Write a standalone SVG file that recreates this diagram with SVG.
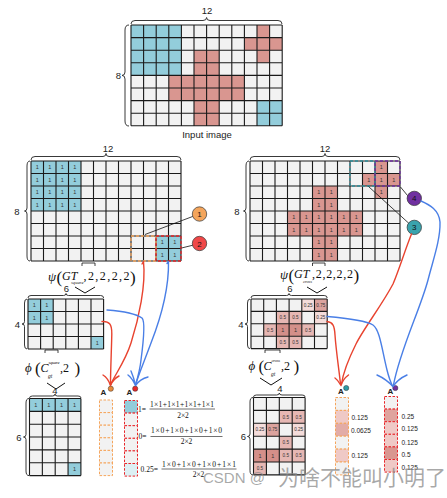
<svg xmlns="http://www.w3.org/2000/svg" width="447" height="498" viewBox="0 0 447 498">
<style>
.bg{fill:#ffffff}
.cell{fill:#f2f2f2}
.gl{fill:none;stroke:#1a1a1a;stroke-width:1.1}
.b{fill:#93cddb}
.r{fill:#d99690}
.v1{fill:#d48f89}
.v75{fill:#dca39e}
.v5{fill:#e6b7b3}
.v25{fill:#f4dcda}
.v125{fill:#efc9c6}
.t{font-family:"Liberation Sans",Arial,sans-serif;font-size:5.5px;fill:#333;text-anchor:middle}
.d{font-family:"Liberation Sans",Arial,sans-serif;font-size:4.6px;fill:#333;text-anchor:middle}
.lbl{font-family:"Liberation Sans",Arial,sans-serif;font-size:9.5px;fill:#222;text-anchor:middle}
.br{fill:none;stroke:#222;stroke-width:0.9}
.m{font-family:"Liberation Serif","Times New Roman",serif;fill:#111}
.eq{font-family:"Liberation Serif","Times New Roman",serif;font-size:7.5px;fill:#111}
.fl{stroke:#111;stroke-width:0.6}
.red{fill:none;stroke:#e8432f;stroke-width:1.4;stroke-linecap:round;stroke-linejoin:round}
.blue{fill:none;stroke:#4a7fe6;stroke-width:1.4;stroke-linecap:round;stroke-linejoin:round}
.thin{fill:none;stroke:#111;stroke-width:0.8}
.chev{fill:none;stroke:#111;stroke-width:1}
.oc{fill:#f2f2f2;stroke:#f5a55c;stroke-width:1;stroke-dasharray:2.5 1.5}
.rc{fill:#f2f2f2;stroke:#e8262a;stroke-width:1;stroke-dasharray:2.5 1.5}
.val{font-family:"Liberation Sans",Arial,sans-serif;font-size:6.5px;fill:#222}
.A{font-family:"Liberation Sans",Arial,sans-serif;font-size:8px;font-weight:bold;fill:#222}
.ct{font-family:"Liberation Sans",Arial,sans-serif;font-size:8px;fill:#111;text-anchor:middle}
</style>
<rect class="bg" x="0" y="0" width="447" height="498"/>

<!-- Input image -->
<g id="input-image">
  <rect class="cell" x="131" y="25" width="151.2" height="100.8"/>
  <rect class="b" x="131" y="25" width="50.4" height="50.4"/>
  <rect class="b" x="257" y="100.6" width="25.2" height="25.2"/>
  <rect class="r" x="257" y="25" width="12.6" height="12.6"/>
  <rect class="r" x="244.4" y="37.6" width="37.8" height="12.6"/>
  <rect class="r" x="257" y="50.2" width="12.6" height="12.6"/>
  <rect class="r" x="194" y="50.2" width="25.2" height="25.2"/>
  <rect class="r" x="168.8" y="75.4" width="75.6" height="25.2"/>
  <rect class="r" x="194" y="100.6" width="25.2" height="25.2"/>
  <path class="gl" d="M131,25V125.8M143.6,25V125.8M156.2,25V125.8M168.8,25V125.8M181.4,25V125.8M194,25V125.8M206.6,25V125.8M219.2,25V125.8M231.8,25V125.8M244.4,25V125.8M257,25V125.8M269.6,25V125.8M282.2,25V125.8M131,25H282.2M131,37.6H282.2M131,50.2H282.2M131,62.8H282.2M131,75.4H282.2M131,88H282.2M131,100.6H282.2M131,113.2H282.2M131,125.8H282.2"/>
  <path class="br" d="M131,24 Q131,20.5 135,20.5 L203,20.5 Q206.6,20.5 206.6,17.5 Q206.6,20.5 210,20.5 L278,20.5 Q282,20.5 282,24"/>
  <path class="br" d="M129,25 Q125,25 125,30 L125,72 Q125,75.4 122,75.4 Q125,75.4 125,79 L125,121 Q125,126 129,126"/>
  <text class="lbl" x="207" y="14">12</text>
  <text class="lbl" x="118.5" y="79">8</text>
  <text class="lbl" x="207" y="138" font-size="8.5">Input image</text>
</g>

<!-- Middle left: GT square -->
<g id="gt-square">
  <rect class="cell" x="31" y="161" width="150" height="100"/>
  <rect class="b" x="31" y="161" width="50" height="50"/>
  <rect class="b" x="156" y="236" width="25" height="25"/>
  <path class="gl" d="M31,161V261M43.5,161V261M56,161V261M68.5,161V261M81,161V261M93.5,161V261M106,161V261M118.5,161V261M131,161V261M143.5,161V261M156,161V261M168.5,161V261M181,161V261M31,161H181M31,173.5H181M31,186H181M31,198.5H181M31,211H181M31,223.5H181M31,236H181M31,248.5H181M31,261H181"/>
  <text class="t" x="37.25 49.75 62.25 74.75" y="169.25">1111</text>
  <text class="t" x="37.25 49.75 62.25 74.75" y="181.75">1111</text>
  <text class="t" x="37.25 49.75 62.25 74.75" y="194.25">1111</text>
  <text class="t" x="37.25 49.75 62.25 74.75" y="206.75">1111</text>
  <text class="t" x="162.25 174.75" y="244.25">11</text>
  <text class="t" x="162.25 174.75" y="256.75">11</text>
  <rect x="131" y="236" width="25" height="25" fill="none" stroke="#f5a55c" stroke-width="1.3" stroke-dasharray="3 2"/>
  <rect x="156" y="236" width="25" height="25" fill="none" stroke="#e8262a" stroke-width="1.3" stroke-dasharray="3 2"/>
  <path class="br" d="M31,160 Q31,156.5 35,156.5 L103,156.5 Q106,156.5 106,153.5 Q106,156.5 109,156.5 L177,156.5 Q181,156.5 181,160"/>
  <path class="br" d="M30,161 Q27,161 27,166 L27,208 Q27,211 24.5,211 Q27,211 27,214 L27,256 Q27,261 30,261"/>
  <text class="lbl" x="108" y="151.5">12</text>
  <text class="lbl" x="17" y="214.5">8</text>
  <path class="thin" d="M82,266V263H95V266"/>
</g>

<!-- Middle right: GT cross -->
<g id="gt-cross">
  <rect class="cell" x="250" y="161" width="150" height="100"/>
  <rect class="r" x="375" y="161" width="12.5" height="12.5"/>
  <rect class="r" x="362.5" y="173.5" width="37.5" height="12.5"/>
  <rect class="r" x="375" y="186" width="12.5" height="12.5"/>
  <rect class="r" x="312.5" y="186" width="25" height="25"/>
  <rect class="r" x="287.5" y="211" width="75" height="25"/>
  <rect class="r" x="312.5" y="236" width="25" height="25"/>
  <path class="gl" d="M250,161V261M262.5,161V261M275,161V261M287.5,161V261M300,161V261M312.5,161V261M325,161V261M337.5,161V261M350,161V261M362.5,161V261M375,161V261M387.5,161V261M400,161V261M250,161H400M250,173.5H400M250,186H400M250,198.5H400M250,211H400M250,223.5H400M250,236H400M250,248.5H400M250,261H400"/>
  <text class="t" x="381.25" y="169.25">1</text>
  <text class="t" x="368.75 381.25 393.75" y="181.75">111</text>
  <text class="t" x="318.75 331.25 381.25" y="194.25">111</text>
  <text class="t" x="318.75 331.25" y="206.75">11</text>
  <text class="t" x="293.75 306.25 318.75 331.25 343.75 356.25" y="219.25">111111</text>
  <text class="t" x="293.75 306.25 318.75 331.25 343.75 356.25" y="231.75">111111</text>
  <text class="t" x="318.75 331.25" y="244.25">11</text>
  <text class="t" x="318.75 331.25" y="256.75">11</text>
  <rect x="350" y="161" width="25" height="25" fill="none" stroke="#2e8f9a" stroke-width="1.3" stroke-dasharray="3 2"/>
  <rect x="375" y="161" width="25" height="25" fill="none" stroke="#7030a0" stroke-width="1.3" stroke-dasharray="3 2"/>
  <path class="br" d="M250,160 Q250,156.5 254,156.5 L322,156.5 Q325,156.5 325,153.5 Q325,156.5 328,156.5 L396,156.5 Q400,156.5 400,160"/>
  <path class="br" d="M249,161 Q246,161 246,166 L246,208 Q246,211 243.5,211 Q246,211 246,214 L246,256 Q246,261 249,261"/>
  <text class="lbl" x="325" y="151.5">12</text>
  <text class="lbl" x="237" y="214.5">8</text>
  <path class="thin" d="M312.5,266V263H325V266"/>
</g>

<!-- psi formulas -->
<g id="psi-square">
  <text class="m" x="48" y="281" font-size="13" font-style="italic">ψ</text>
  <text class="m" x="56.5" y="283" font-size="17">(</text>
  <text class="m" x="62" y="280" font-size="12" font-style="italic">GT</text>
  <text class="m" x="71" y="283.5" font-size="4.6" font-style="italic" textLength="12.5">square</text>
  <text class="m" x="83.5" y="280" font-size="12" textLength="46">,2,2,2,2</text>
  <text class="m" x="130" y="283" font-size="17">)</text>
  <path class="chev" d="M75,287 L85,293 L95,287"/>
</g>
<g id="psi-cross">
  <text class="m" x="280" y="279" font-size="13" font-style="italic">ψ</text>
  <text class="m" x="288.5" y="281" font-size="17">(</text>
  <text class="m" x="294" y="278" font-size="12" font-style="italic">GT</text>
  <text class="m" x="303" y="282.5" font-size="4.6" font-style="italic" textLength="9">cross</text>
  <text class="m" x="312" y="278" font-size="12" textLength="41">,2,2,2,2</text>
  <text class="m" x="353.5" y="281" font-size="17">)</text>
  <path class="chev" d="M307,287 L317,293 L327,287"/>
</g>

<!-- Lower left 6x4 -->
<g id="c-square">
  <rect class="cell" x="28" y="299" width="75.6" height="50"/>
  <rect class="b" x="28" y="299" width="25.2" height="25"/>
  <rect class="b" x="91" y="336.5" width="12.6" height="12.5"/>
  <path class="gl" d="M28,299V349M40.6,299V349M53.2,299V349M65.8,299V349M78.4,299V349M91,299V349M103.6,299V349M28,299H103.6M28,311.5H103.6M28,324H103.6M28,336.5H103.6M28,349H103.6"/>
  <text class="t" x="34.3 46.9" y="307.25">11</text>
  <text class="t" x="34.3 46.9" y="319.75">11</text>
  <text class="t" x="97.3" y="344.75">1</text>
  <path class="br" d="M28,298 Q28,295.5 31,295.5 L63.5,295.5 Q66,295.5 66,293.5 Q66,295.5 68.5,295.5 L100.6,295.5 Q103.6,295.5 103.6,298"/>
  <path class="br" d="M27,299 Q24.5,299 24.5,303 L24.5,321.5 Q24.5,324 22,324 Q24.5,324 24.5,326.5 L24.5,345 Q24.5,349 27,349"/>
  <text class="lbl" x="66.5" y="292">6</text>
  <text class="lbl" x="17.5" y="327.5">4</text>
  <path class="thin" d="M45,353V350H58V353"/>
</g>

<!-- Lower right 6x4 -->
<g id="c-cross">
  <rect class="cell" x="251" y="299" width="76.2" height="49.6"/>
  <rect class="v25" x="301.8" y="299" width="12.7" height="12.4"/>
  <rect class="v75" x="314.5" y="299" width="12.7" height="12.4"/>
  <rect class="v5" x="276.4" y="311.4" width="25.4" height="12.4"/>
  <rect class="v25" x="314.5" y="311.4" width="12.7" height="12.4"/>
  <rect class="v5" x="263.7" y="323.8" width="12.7" height="12.4"/>
  <rect class="v1" x="276.4" y="323.8" width="25.4" height="12.4"/>
  <rect class="v5" x="301.8" y="323.8" width="12.7" height="12.4"/>
  <rect class="v5" x="276.4" y="336.2" width="25.4" height="12.4"/>
  <path class="gl" d="M251,299V348.6M263.7,299V348.6M276.4,299V348.6M289.1,299V348.6M301.8,299V348.6M314.5,299V348.6M327.2,299V348.6M251,299H327.2M251,311.4H327.2M251,323.8H327.2M251,336.2H327.2M251,348.6H327.2"/>
  <text class="d" x="308.15" y="306.8">0.25</text>
  <text class="d" x="320.85" y="306.8">0.75</text>
  <text class="d" x="282.75" y="319.2">0.5</text>
  <text class="d" x="295.45" y="319.2">0.5</text>
  <text class="d" x="320.85" y="319.2">0.25</text>
  <text class="d" x="270.05" y="331.6">0.5</text>
  <text class="t" x="282.75 295.45" y="332">11</text>
  <text class="d" x="308.15" y="331.6">0.5</text>
  <text class="d" x="282.75" y="344">0.5</text>
  <text class="d" x="295.45" y="344">0.5</text>
  <path class="br" d="M251,298 Q251,295.5 254,295.5 L286.5,295.5 Q289,295.5 289,293.5 Q289,295.5 291.5,295.5 L324.2,295.5 Q327.2,295.5 327.2,298"/>
  <path class="br" d="M250,299 Q247.5,299 247.5,303 L247.5,321.5 Q247.5,324 245,324 Q247.5,324 247.5,326.5 L247.5,345 Q247.5,348.6 250,348.6"/>
  <text class="lbl" x="290" y="292">6</text>
  <text class="lbl" x="241" y="327.5">4</text>
  <path class="thin" d="M265,353V350H280V353"/>
</g>

<!-- phi formulas -->
<g id="phi-square">
  <text class="m" x="25" y="372" font-size="13" font-style="italic">ϕ</text>
  <text class="m" x="35" y="374" font-size="17">(</text>
  <text class="m" x="40.5" y="372" font-size="12" font-style="italic">C</text>
  <text class="m" x="48.5" y="363.5" font-size="4.6" font-style="italic" textLength="11">square</text>
  <text class="m" x="48" y="378" font-size="5.5" font-style="italic">gt</text>
  <text class="m" x="60" y="372" font-size="12">,2</text>
  <text class="m" x="74.5" y="374" font-size="17">)</text>
  <path class="chev" d="M47,383 L56,389 L65,383"/>
</g>
<g id="phi-cross">
  <text class="m" x="248.5" y="370" font-size="13" font-style="italic">ϕ</text>
  <text class="m" x="258.5" y="372" font-size="17">(</text>
  <text class="m" x="263.5" y="370" font-size="12" font-style="italic">C</text>
  <text class="m" x="271.5" y="361.5" font-size="4.6" font-style="italic" textLength="8.5">cross</text>
  <text class="m" x="271" y="376" font-size="5.5" font-style="italic">gt</text>
  <text class="m" x="281" y="370" font-size="12">,2</text>
  <text class="m" x="293.5" y="372" font-size="17">)</text>
  <path class="chev" d="M260,378 L271,385 L282,378"/>
</g>

<!-- Bottom left 4x6 -->
<g id="pool-square">
  <rect class="cell" x="29.5" y="398.5" width="51.4" height="77.1"/>
  <rect class="b" x="29.5" y="398.5" width="51.4" height="12.85"/>
  <rect class="b" x="68.05" y="462.75" width="12.85" height="12.85"/>
  <path class="gl" d="M29.5,398.5V475.6M42.35,398.5V475.6M55.2,398.5V475.6M68.05,398.5V475.6M80.9,398.5V475.6M29.5,398.5H80.9M29.5,411.35H80.9M29.5,424.2H80.9M29.5,437.05H80.9M29.5,449.9H80.9M29.5,462.75H80.9M29.5,475.6H80.9"/>
  <text class="t" x="35.9 48.8 61.6 74.5" y="406.9">1111</text>
  <text class="t" x="74.5" y="471.2">1</text>
  <path class="br" d="M29.5,398 Q29.5,396 32.5,396 L52.5,396 Q55,396 55,394 Q55,396 57.5,396 L78,396 Q81,396 81,398"/>
  <path class="br" d="M29,398.5 Q26,398.5 26,403 L26,434.5 Q26,437 23.5,437 Q26,437 26,439.5 L26,471 Q26,475.6 29,475.6"/>
  <text class="lbl" x="55" y="393.5">4</text>
  <text class="lbl" x="19" y="440.5">6</text>
</g>

<!-- Bottom right 4x6 -->
<g id="pool-cross">
  <rect class="cell" x="253.5" y="397.5" width="51.6" height="77.4"/>
  <rect class="v5" x="279.3" y="410.4" width="25.8" height="12.9"/>
  <rect class="v25" x="253.5" y="423.3" width="12.9" height="12.9"/>
  <rect class="v75" x="266.4" y="423.3" width="12.9" height="12.9"/>
  <rect class="v25" x="292.2" y="423.3" width="12.9" height="12.9"/>
  <rect class="v5" x="279.3" y="436.2" width="12.9" height="12.9"/>
  <rect class="v1" x="253.5" y="449.1" width="25.8" height="12.9"/>
  <rect class="v5" x="279.3" y="449.1" width="25.8" height="12.9"/>
  <rect class="v5" x="253.5" y="462" width="12.9" height="12.9"/>
  <path class="gl" d="M253.5,397.5V474.9M266.4,397.5V474.9M279.3,397.5V474.9M292.2,397.5V474.9M305.1,397.5V474.9M253.5,397.5H305.1M253.5,410.4H305.1M253.5,423.3H305.1M253.5,436.2H305.1M253.5,449.1H305.1M253.5,462H305.1M253.5,474.9H305.1"/>
  <text class="d" x="285.75" y="418.5">0.5</text>
  <text class="d" x="298.65" y="418.5">0.5</text>
  <text class="d" x="259.95" y="431.4">0.25</text>
  <text class="d" x="272.85" y="431.4">0.75</text>
  <text class="d" x="298.65" y="431.4">0.25</text>
  <text class="d" x="285.75" y="444.3">0.5</text>
  <text class="t" x="259.95 272.85" y="457.6">11</text>
  <text class="d" x="285.75" y="457.2">0.5</text>
  <text class="d" x="298.65" y="457.2">0.5</text>
  <text class="d" x="259.95" y="470.1">0.5</text>
  <path class="br" d="M253.5,397 Q253.5,395 256.5,395 L276.5,395 Q279.3,395 279.3,393 Q279.3,395 282,395 L302.1,395 Q305.1,395 305.1,397"/>
  <path class="br" d="M253,397.5 Q250,397.5 250,402 L250,434 Q250,436.5 247.5,436.5 Q250,436.5 250,439 L250,470.5 Q250,474.9 253,474.9"/>
  <text class="lbl" x="280" y="392">4</text>
  <text class="lbl" x="243.5" y="440">6</text>
</g>

<!-- Vector columns -->
<g id="vec-orange-left">
  <rect class="oc" x="99.5" y="400" width="13" height="12.6"/>
  <rect class="oc" x="99.5" y="412.6" width="13" height="12.6"/>
  <rect class="oc" x="99.5" y="425.2" width="13" height="12.6"/>
  <rect class="oc" x="99.5" y="437.8" width="13" height="12.6"/>
  <rect class="oc" x="99.5" y="450.4" width="13" height="12.6"/>
  <rect class="oc" x="99.5" y="463" width="13" height="12.6"/>
  <text class="A" x="100.5" y="395">A</text>
  <circle cx="110.8" cy="388.7" r="2.6" fill="#e98a3a" stroke="#333" stroke-width="0.5"/>
</g>
<g id="vec-red-left">
  <rect class="rc" x="124.5" y="400.5" width="13" height="12.6" style="fill:#93cddb"/>
  <rect class="rc" x="124.5" y="413.1" width="13" height="12.6"/>
  <rect class="rc" x="124.5" y="425.7" width="13" height="12.6"/>
  <rect class="rc" x="124.5" y="438.3" width="13" height="12.6"/>
  <rect class="rc" x="124.5" y="450.9" width="13" height="12.6"/>
  <rect class="rc" x="124.5" y="463.5" width="13" height="12.6" style="fill:#dcf0f4"/>
  <text class="A" x="126.5" y="395">A</text>
  <circle cx="135.2" cy="388.7" r="2.6" fill="#e8262a" stroke="#333" stroke-width="0.5"/>
</g>
<g id="vec-orange-right">
  <rect class="oc" x="335.5" y="397.5" width="13" height="12.9"/>
  <rect class="oc" x="335.5" y="410.4" width="13" height="12.9" style="fill:#efc9c6"/>
  <rect class="oc" x="335.5" y="423.3" width="13" height="12.9" style="fill:#e2aca7"/>
  <rect class="oc" x="335.5" y="436.2" width="13" height="12.9"/>
  <rect class="oc" x="335.5" y="449.1" width="13" height="12.9" style="fill:#efc9c6"/>
  <rect class="oc" x="335.5" y="462" width="13" height="12.9"/>
  <text class="val" x="351.5" y="420">0.125</text>
  <text class="val" x="351" y="432.5">0.0625</text>
  <text class="val" x="351.5" y="457.5">0.125</text>
  <text class="A" x="338" y="394">A</text>
  <circle cx="346.2" cy="388" r="2.6" fill="#2e9aa5" stroke="#333" stroke-width="0.5"/>
</g>
<g id="vec-red-right">
  <rect class="rc" x="384.5" y="396.5" width="13" height="12.6"/>
  <rect class="rc" x="384.5" y="409.1" width="13" height="12.6" style="fill:#dfa39e"/>
  <rect class="rc" x="384.5" y="421.7" width="13" height="12.6" style="fill:#efc9c6"/>
  <rect class="rc" x="384.5" y="434.3" width="13" height="12.6" style="fill:#efc9c6"/>
  <rect class="rc" x="384.5" y="446.9" width="13" height="12.6" style="fill:#d99690"/>
  <rect class="rc" x="384.5" y="459.5" width="13" height="12.6" style="fill:#efc9c6"/>
  <text class="val" x="401.5" y="419">0.25</text>
  <text class="val" x="401.5" y="431.3">0.125</text>
  <text class="val" x="401.5" y="444.5">0.125</text>
  <text class="val" x="401.5" y="457">0.5</text>
  <text class="val" x="401.5" y="469.5">0.125</text>
  <text class="A" x="387.5" y="394">A</text>
  <circle cx="395.3" cy="388" r="2.6" fill="#7030a0" stroke="#333" stroke-width="0.5"/>
</g>

<!-- Equations -->
<g id="equations">
  <text class="eq" x="138" y="411.5">1=</text>
  <line class="fl" x1="149.5" y1="409" x2="215" y2="409"/>
  <text class="eq" x="150" y="406.5" textLength="64">1×1+1×1+1×1+1×1</text>
  <text class="eq" x="183" y="417.5" text-anchor="middle">2×2</text>
  <text class="eq" x="138.5" y="439">0=</text>
  <line class="fl" x1="150.5" y1="436.5" x2="222.5" y2="436.5"/>
  <text class="eq" x="151" y="432.5" textLength="71">1×0+1×0+1×0+1×0</text>
  <text class="eq" x="186.5" y="443.5" text-anchor="middle">2×2</text>
  <text class="eq" x="140.5" y="471.5">0.25=</text>
  <line class="fl" x1="161.5" y1="469" x2="236.5" y2="469"/>
  <text class="eq" x="162" y="466.5" textLength="74">1×0+1×0+1×0+1×1</text>
  <text class="eq" x="198.5" y="477" text-anchor="middle">2×2</text>
</g>

<!-- Callout circles -->
<g id="circle-1">
  <circle cx="199.5" cy="214" r="7.2" fill="#f4a55c" stroke="#333" stroke-width="0.7"/>
  <text class="ct" x="199.5" y="217">1</text>
</g>
<g id="circle-2">
  <circle cx="199.5" cy="243.5" r="7.2" fill="#f04848" stroke="#333" stroke-width="0.7"/>
  <text class="ct" x="199.5" y="246.5">2</text>
</g>
<g id="circle-4">
  <circle cx="414.3" cy="198.4" r="7.2" fill="#7030a0" stroke="#333" stroke-width="0.7"/>
  <text class="ct" x="414.3" y="201.4" fill="#fff">4</text>
</g>
<g id="circle-3">
  <circle cx="414.3" cy="227.4" r="7.2" fill="#3aa3ad" stroke="#333" stroke-width="0.7"/>
  <text class="ct" x="414.3" y="230.4">3</text>
</g>

<!-- Connectors -->
<g id="connectors">
  <path class="thin" d="M192.6,216.5 L145,234.5"/>
  <path class="thin" d="M192.5,245.3 L181.5,248"/>
  <path class="thin" d="M407.5,195.5 L400.5,187"/>
  <path class="thin" d="M408.5,223 L368.5,186.5"/>

  <path class="red" d="M142,264 L143.5,261.5 C146,285 139,318 131,343 C125,362 114,376 110.5,385"/>
  <path class="red" d="M102,321.5 C109,321 112,324 111.8,334 C111.5,350 110.5,370 110.5,385"/>
  <path class="red" d="M103,375 Q108,378 110.5,385.5 M119,376 Q113,379 110.5,385.5"/>

  <path class="blue" d="M167,263.5 L168.5,261.5 C169,290 160,320 151,343 C144,362 138,376 135.5,385"/>
  <path class="blue" d="M107,310 C120,311 135,313 142,318 C146,322 143,345 141,360 C140,370 137,380 135.5,385"/>
  <path class="blue" d="M128,375 Q132,378 135.5,385.5 M148,377 Q140,379 135.5,385.5 M131,371 Q134,378 135.5,385.5"/>

  <path class="red" d="M411.5,234 C405,250 399,270 393,284 C382,305 364,328 356,344 C348,360 343,374 341.5,384"/>
  <path class="red" d="M327,321.5 C333,322 334.5,326 335,335 C336,350 339,370 340.5,384"/>
  <path class="red" d="M335,378 Q338,380 341,385.5 M348.5,375 Q343,379 341,385.5"/>

  <path class="blue" d="M421,201 C430,205 439,210 440,222 C440.5,240 433,260 428,280 C420,310 400,350 393.5,385"/>
  <path class="blue" d="M327,316.5 C345,318 365,320 373,325 C380,330 382,350 387,370 C389,378 391,383 392.5,386"/>
  <path class="blue" d="M377,375 Q386,379 393,386.5 M407,375 Q398,379 393,386.5"/>
</g>

<!-- Watermark -->
<g id="watermark" fill="#8c8c8c" fill-opacity="0.75">
  <text x="203" y="483" font-family="'Liberation Sans',Arial,sans-serif" font-size="15">CSDN @</text>
  <text x="278" y="484.5" font-family="'Noto Sans CJK SC','Liberation Sans',sans-serif" font-size="21">为啥不能叫小明了</text>
</g>
</svg>
